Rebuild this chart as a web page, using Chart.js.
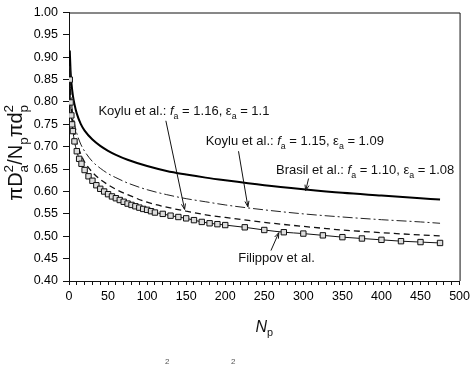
<!DOCTYPE html>
<html><head><meta charset="utf-8">
<script src="https://cdn.jsdelivr.net/npm/chart.js@4.4.0/dist/chart.umd.min.js"></script>
<style>html,body{margin:0;padding:0;background:#fff;}#wrap{width:474px;height:366px;}</style>
</head><body><div id="wrap"><canvas id="c" width="474" height="366"></canvas></div>
<script>
// ---- data ----
const curveNp = [1,2,3,5,7,10,15,20,30,40,50,60,75,100,125,150,175,200,250,300,350,400,450,475];
const brasilVals = [0.915,0.870,0.845,0.814,0.795,0.774,0.751,0.736,0.716,0.702,0.691,0.682,0.671,0.657,0.646,0.638,0.631,0.625,0.614,0.605,0.597,0.591,0.585,0.582];
const koylu115Vals = [0.880,0.830,0.805,0.772,0.752,0.730,0.706,0.690,0.667,0.652,0.640,0.631,0.619,0.604,0.593,0.584,0.577,0.570,0.559,0.550,0.543,0.537,0.532,0.529];
const koylu116Vals = [0.874,0.820,0.790,0.755,0.732,0.709,0.684,0.666,0.643,0.627,0.615,0.605,0.593,0.576,0.565,0.556,0.548,0.542,0.531,0.522,0.514,0.508,0.503,0.501];
const filippovNp = [1,2,3,4,5,7,10,13,16,20,25,30,35,40,45,50,55,60,65,70,75,80,85,90,95,100,105,110,120,130,140,150,160,170,180,190,200,225,250,275,300,325,350,375,400,425,450,475];
const filippovVals = [0.850,0.799,0.770,0.750,0.735,0.712,0.690,0.673,0.662,0.648,0.634,0.624,0.614,0.606,0.600,0.594,0.589,0.585,0.581,0.577,0.573,0.570,0.567,0.564,0.561,0.559,0.556,0.553,0.550,0.546,0.543,0.540,0.536,0.532,0.529,0.527,0.525,0.520,0.514,0.509,0.506,0.502,0.498,0.495,0.492,0.489,0.487,0.485];
const xTickLabels = [0,50,100,150,200,250,300,350,400,450,500];
const yTickLabels = ['0.40','0.45','0.50','0.55','0.60','0.65','0.70','0.75','0.80','0.85','0.90','0.95','1.00'];

const FAM = "'Liberation Sans', Arial, Helvetica, sans-serif";
const pts = (xs, ys) => xs.map((x, i) => ({x: x, y: ys[i]}));
const xMinorTicks = [];
for (let v = 0; v <= 500; v += 10) xMinorTicks.push(v);

// annotations (positions in data units)
const annotations = [
  {parts:[{t:'Koylu et al.: '},{t:'f',it:true},{sub:'a'},{t:' = 1.16, ε'},{sub:'a'},{t:' = 1.1'}], at:[37.7,0.780], arrow:[[124,0.758],[148,0.560]]},
  {parts:[{t:'Koylu et al.: '},{t:'f',it:true},{sub:'a'},{t:' = 1.15, ε'},{sub:'a'},{t:' = 1.09'}], at:[175,0.714], arrow:[[217,0.690],[229,0.566]]},
  {parts:[{t:'Brasil et al.: '},{t:'f',it:true},{sub:'a'},{t:' = 1.10, ε'},{sub:'a'},{t:' = 1.08'}], at:[265,0.649], arrow:[[306.7,0.629],[303,0.602]]},
  {parts:[{t:'Filippov et al.'}], at:[216.6,0.452], arrow:[[258.5,0.468],[268.6,0.508]]}
];

function measureRich(ctx, parts, size) {
  let w = 0;
  for (const p of parts) {
    if (p.t !== undefined) { ctx.font = (p.it ? 'italic ' : '') + size + 'px ' + FAM; w += ctx.measureText(p.t).width; }
    else { ctx.font = (size*0.68) + 'px ' + FAM; w += Math.max(p.sub ? ctx.measureText(p.sub).width : 0, p.sup ? ctx.measureText(p.sup).width : 0); }
  }
  return w;
}
function drawRich(ctx, x, y, parts, size) {
  ctx.textBaseline = 'alphabetic'; ctx.textAlign = 'left';
  let cx = x;
  for (const p of parts) {
    if (p.t !== undefined) {
      ctx.font = (p.it ? 'italic ' : '') + size + 'px ' + FAM;
      ctx.fillText(p.t, cx, y); cx += ctx.measureText(p.t).width;
    } else {
      ctx.font = (size*0.68) + 'px ' + FAM;
      let w = 0;
      if (p.sub) { ctx.fillText(p.sub, cx, y + size*0.28); w = ctx.measureText(p.sub).width; }
      if (p.sup) { ctx.fillText(p.sup, cx, y - size*0.45); w = Math.max(w, ctx.measureText(p.sup).width); }
      cx += w;
    }
  }
}
function arrow(ctx, x1, y1, x2, y2) {
  ctx.beginPath(); ctx.moveTo(x1, y1); ctx.lineTo(x2, y2); ctx.stroke();
  const a = Math.atan2(y2 - y1, x2 - x1), L = 6, s = 0.35;
  ctx.beginPath();
  ctx.moveTo(x2 - L*Math.cos(a - s), y2 - L*Math.sin(a - s));
  ctx.lineTo(x2, y2);
  ctx.lineTo(x2 - L*Math.cos(a + s), y2 - L*Math.sin(a + s));
  ctx.stroke();
}

const decor = {
  id: 'decor',
  afterDraw(chart) {
    const ctx = chart.ctx, ca = chart.chartArea, xs = chart.scales.x, ys = chart.scales.y;
    ctx.save();
    ctx.strokeStyle = '#111'; ctx.lineWidth = 1;
    ctx.beginPath();
    ctx.moveTo(ca.left, ca.top + 0.5); ctx.lineTo(ca.right + 0.5, ca.top + 0.5); ctx.lineTo(ca.right + 0.5, ca.bottom);
    ctx.stroke();
    ctx.fillStyle = '#111';
    for (const an of annotations) {
      const size = 13;
      const tx = xs.getPixelForValue(an.at[0]), ty = ys.getPixelForValue(an.at[1]) + 4.5;
      drawRich(ctx, tx, ty, an.parts, size);
      ctx.lineWidth = 1;
      arrow(ctx, xs.getPixelForValue(an.arrow[0][0]), ys.getPixelForValue(an.arrow[0][1]),
                 xs.getPixelForValue(an.arrow[1][0]), ys.getPixelForValue(an.arrow[1][1]));
    }
    // x title
    const xt = [{t:'N',it:true},{sub:'p'}];
    const xsz = 16;
    const wx = measureRich(ctx, xt, xsz);
    drawRich(ctx, (ca.left + ca.right)/2 - wx/2, 332, xt, xsz);
    // y title
    const yt = [{t:'πD'},{sub:'a',sup:'2'},{t:'/N'},{sub:'p'},{t:'πd'},{sub:'p',sup:'2'}];
    const ysz = 20;
    const wy = measureRich(ctx, yt, ysz);
    ctx.translate(22, (ca.top + ca.bottom)/2 + 6);
    ctx.rotate(-Math.PI/2);
    drawRich(ctx, -wy/2, 0, yt, ysz);
    ctx.restore();
    // cut-off caption fragments at bottom
    ctx.save();
    ctx.fillStyle = '#555';
    ctx.font = '8px ' + FAM;
    ctx.textBaseline = 'alphabetic';
    ctx.fillText('2', 165, 364);
    ctx.fillText('2', 231, 364);
    ctx.restore();
  }
};

new Chart(document.getElementById('c'), {
  type: 'line',
  data: {
    datasets: [
      {label:'Filippov et al.', data: pts(filippovNp, filippovVals), borderColor:'#111', borderWidth:1,
       pointStyle:'rect', pointRadius:3.8, pointBackgroundColor:'#ddd', pointBorderColor:'#111', pointBorderWidth:1,
       cubicInterpolationMode:'monotone', fill:false},
      {label:'Koylu 1.16', data: pts(curveNp, koylu116Vals), borderColor:'#111', borderWidth:1.3, borderDash:[6,4],
       pointRadius:0, cubicInterpolationMode:'monotone', fill:false},
      {label:'Koylu 1.15', data: pts(curveNp, koylu115Vals), borderColor:'#222', borderWidth:1, borderDash:[10,3,2,3],
       pointRadius:0, cubicInterpolationMode:'monotone', fill:false},
      {label:'Brasil', data: pts(curveNp, brasilVals), borderColor:'#000', borderWidth:2,
       pointRadius:0, cubicInterpolationMode:'monotone', fill:false}
    ]
  },
  options: {
    responsive: false, animation: false, devicePixelRatio: 1,
    layout: {padding: {left: 0, right: 11, top: 6, bottom: 0}},
    plugins: {legend: {display: false}, tooltip: {enabled: false}},
    scales: {
      x: {
        type: 'linear', min: 0, max: 500,
        afterBuildTicks: s => { s.ticks = xMinorTicks.map(v => ({value: v})); },
        afterFit: s => { s.height = 85; },
        ticks: {autoSkip: false, maxRotation: 0, color: '#000', padding: 4,
                font: {family: FAM, size: 12.5},
                callback: v => xTickLabels.includes(v) ? String(v) : ''},
        grid: {drawOnChartArea: false, drawTicks: true, tickLength: 4, tickColor: '#111'},
        border: {color: '#111', width: 1}
      },
      y: {
        type: 'linear', min: 0.4, max: 1.0,
        afterBuildTicks: s => { s.ticks = yTickLabels.map(v => ({value: parseFloat(v)})); },
        afterFit: s => { s.width = 69; },
        ticks: {color: '#000', padding: 5, font: {family: FAM, size: 12.5},
                callback: (v, i) => yTickLabels[i]},
        grid: {drawOnChartArea: false, drawTicks: true, tickLength: 6, tickColor: '#111'},
        border: {color: '#111', width: 1}
      }
    }
  },
  plugins: [decor]
});
</script>
</body></html>
